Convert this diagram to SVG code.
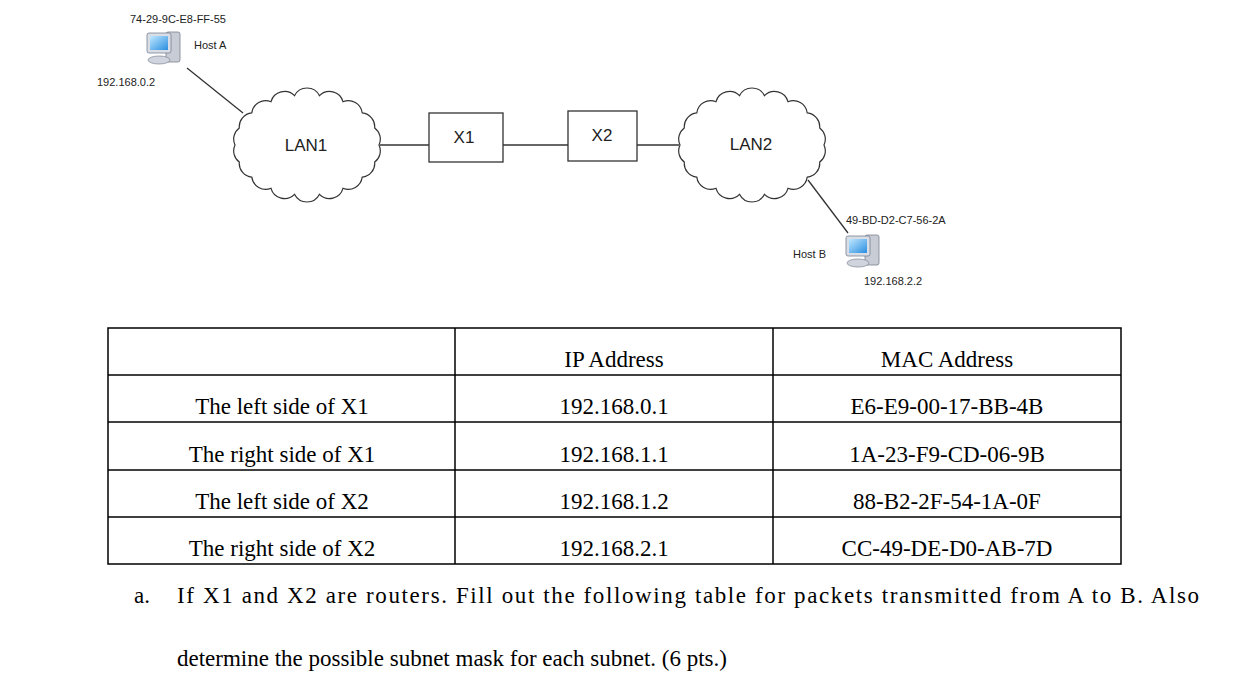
<svg xmlns="http://www.w3.org/2000/svg" width="1258" height="687" viewBox="0 0 1258 687">
<style>
.s{font-family:"Liberation Sans",Arial,sans-serif;fill:#222}
.sm{font-size:11px}
.md{font-size:17px}
.r{font-family:"Liberation Serif","Times New Roman",serif;font-size:23px;fill:#000}
.ln{stroke:#333;stroke-width:1.3;fill:none}
.tb{stroke:#000;stroke-width:1.5;fill:none}
</style>
<defs>
<path id="cloud" fill="#fff" stroke="#333" stroke-width="1.2" d="M72,0 A14,14 0 0 1 67.7,17.1 A14,14 0 0 1 55.2,32.2 A14,14 0 0 1 36,43.3 A14,14 0 0 1 12.5,49.3 A14,14 0 0 1 -12.5,49.3 A14,14 0 0 1 -36,43.3 A14,14 0 0 1 -55.2,32.2 A14,14 0 0 1 -67.7,17.1 A14,14 0 0 1 -72,0 A14,14 0 0 1 -67.7,-17.1 A14,14 0 0 1 -55.2,-32.2 A14,14 0 0 1 -36,-43.3 A14,14 0 0 1 -12.5,-49.3 A14,14 0 0 1 12.5,-49.3 A14,14 0 0 1 36,-43.3 A14,14 0 0 1 55.2,-32.2 A14,14 0 0 1 67.7,-17.1 A14,14 0 0 1 72,0 Z"/>
<linearGradient id="scr" x1="0" y1="0" x2="1" y2="1"><stop offset="0" stop-color="#bfe8ff"/><stop offset="1" stop-color="#2a8ee0"/></linearGradient>
<g id="pc">
<rect x="20" y="3" width="14" height="30" rx="2" fill="#c8ccd4" stroke="#7a8090" stroke-width="0.8"/>
<rect x="1" y="4" width="24" height="20" rx="2" fill="#d8dde6" stroke="#7a8090" stroke-width="0.8"/>
<rect x="4" y="7" width="18" height="14" fill="url(#scr)"/>
<ellipse cx="13" cy="31" rx="11" ry="4" fill="#d0d4dc" stroke="#8a90a0" stroke-width="0.8"/>
</g>
</defs>
<g id="connectors">
<line class="ln" x1="187" y1="68" x2="243" y2="113"/>
<line class="ln" x1="380" y1="145" x2="429" y2="145"/>
<line class="ln" x1="503" y1="145" x2="568" y2="145"/>
<line class="ln" x1="637" y1="145" x2="679" y2="145"/>
<line class="ln" x1="808" y1="180" x2="848" y2="233"/>
</g>
<g id="lan1"><use href="#cloud" x="307" y="145"/><text class="s md" x="306" y="151" text-anchor="middle">LAN1</text></g>
<g id="lan2"><use href="#cloud" x="752" y="145"/><text class="s md" x="751" y="150" text-anchor="middle">LAN2</text></g>
<g id="x1"><rect x="429" y="113" width="74" height="49" fill="#fff" stroke="#333" stroke-width="1.3"/><text class="s md" x="464" y="143" text-anchor="middle">X1</text></g>
<g id="x2"><rect x="568" y="111" width="69" height="50" fill="#fff" stroke="#333" stroke-width="1.3"/><text class="s md" x="602" y="141" text-anchor="middle">X2</text></g>
<g id="hostA">
<use href="#pc" x="146" y="29"/>
<text class="s sm" x="130" y="23">74-29-9C-E8-FF-55</text>
<text class="s sm" x="194" y="49">Host A</text>
<text class="s sm" x="97" y="86">192.168.0.2</text>
</g>
<g id="hostB">
<use href="#pc" x="845" y="232"/>
<text class="s sm" x="846" y="224">49-BD-D2-C7-56-2A</text>
<text class="s sm" x="793" y="258">Host B</text>
<text class="s sm" x="864" y="285">192.168.2.2</text>
</g>
<g id="table">
<rect class="tb" x="108" y="328" width="1013" height="236"/>
<line class="tb" x1="108" y1="375" x2="1121" y2="375"/>
<line class="tb" x1="108" y1="422" x2="1121" y2="422"/>
<line class="tb" x1="108" y1="470" x2="1121" y2="470"/>
<line class="tb" x1="108" y1="517" x2="1121" y2="517"/>
<line class="tb" x1="455" y1="328" x2="455" y2="564"/>
<line class="tb" x1="773" y1="328" x2="773" y2="564"/>
<g class="r" text-anchor="middle">
<text x="614" y="367">IP Address</text><text x="947" y="367">MAC Address</text>
<text x="282" y="414">The left side of X1</text><text x="614" y="414">192.168.0.1</text><text x="947" y="414">E6-E9-00-17-BB-4B</text>
<text x="282" y="462">The right side of X1</text><text x="614" y="462">192.168.1.1</text><text x="947" y="462">1A-23-F9-CD-06-9B</text>
<text x="282" y="509">The left side of X2</text><text x="614" y="509">192.168.1.2</text><text x="947" y="509">88-B2-2F-54-1A-0F</text>
<text x="282" y="556">The right side of X2</text><text x="614" y="556">192.168.2.1</text><text x="947" y="556">CC-49-DE-D0-AB-7D</text>
</g>
</g>
<text class="r" x="134" y="603">a.</text>
<text class="r" x="177" y="603" textLength="1022" lengthAdjust="spacing">If X1 and X2 are routers. Fill out the following table for packets transmitted from A to B. Also</text>
<text class="r" x="177" y="666">determine the possible subnet mask for each subnet. (6 pts.)</text>
</svg>
